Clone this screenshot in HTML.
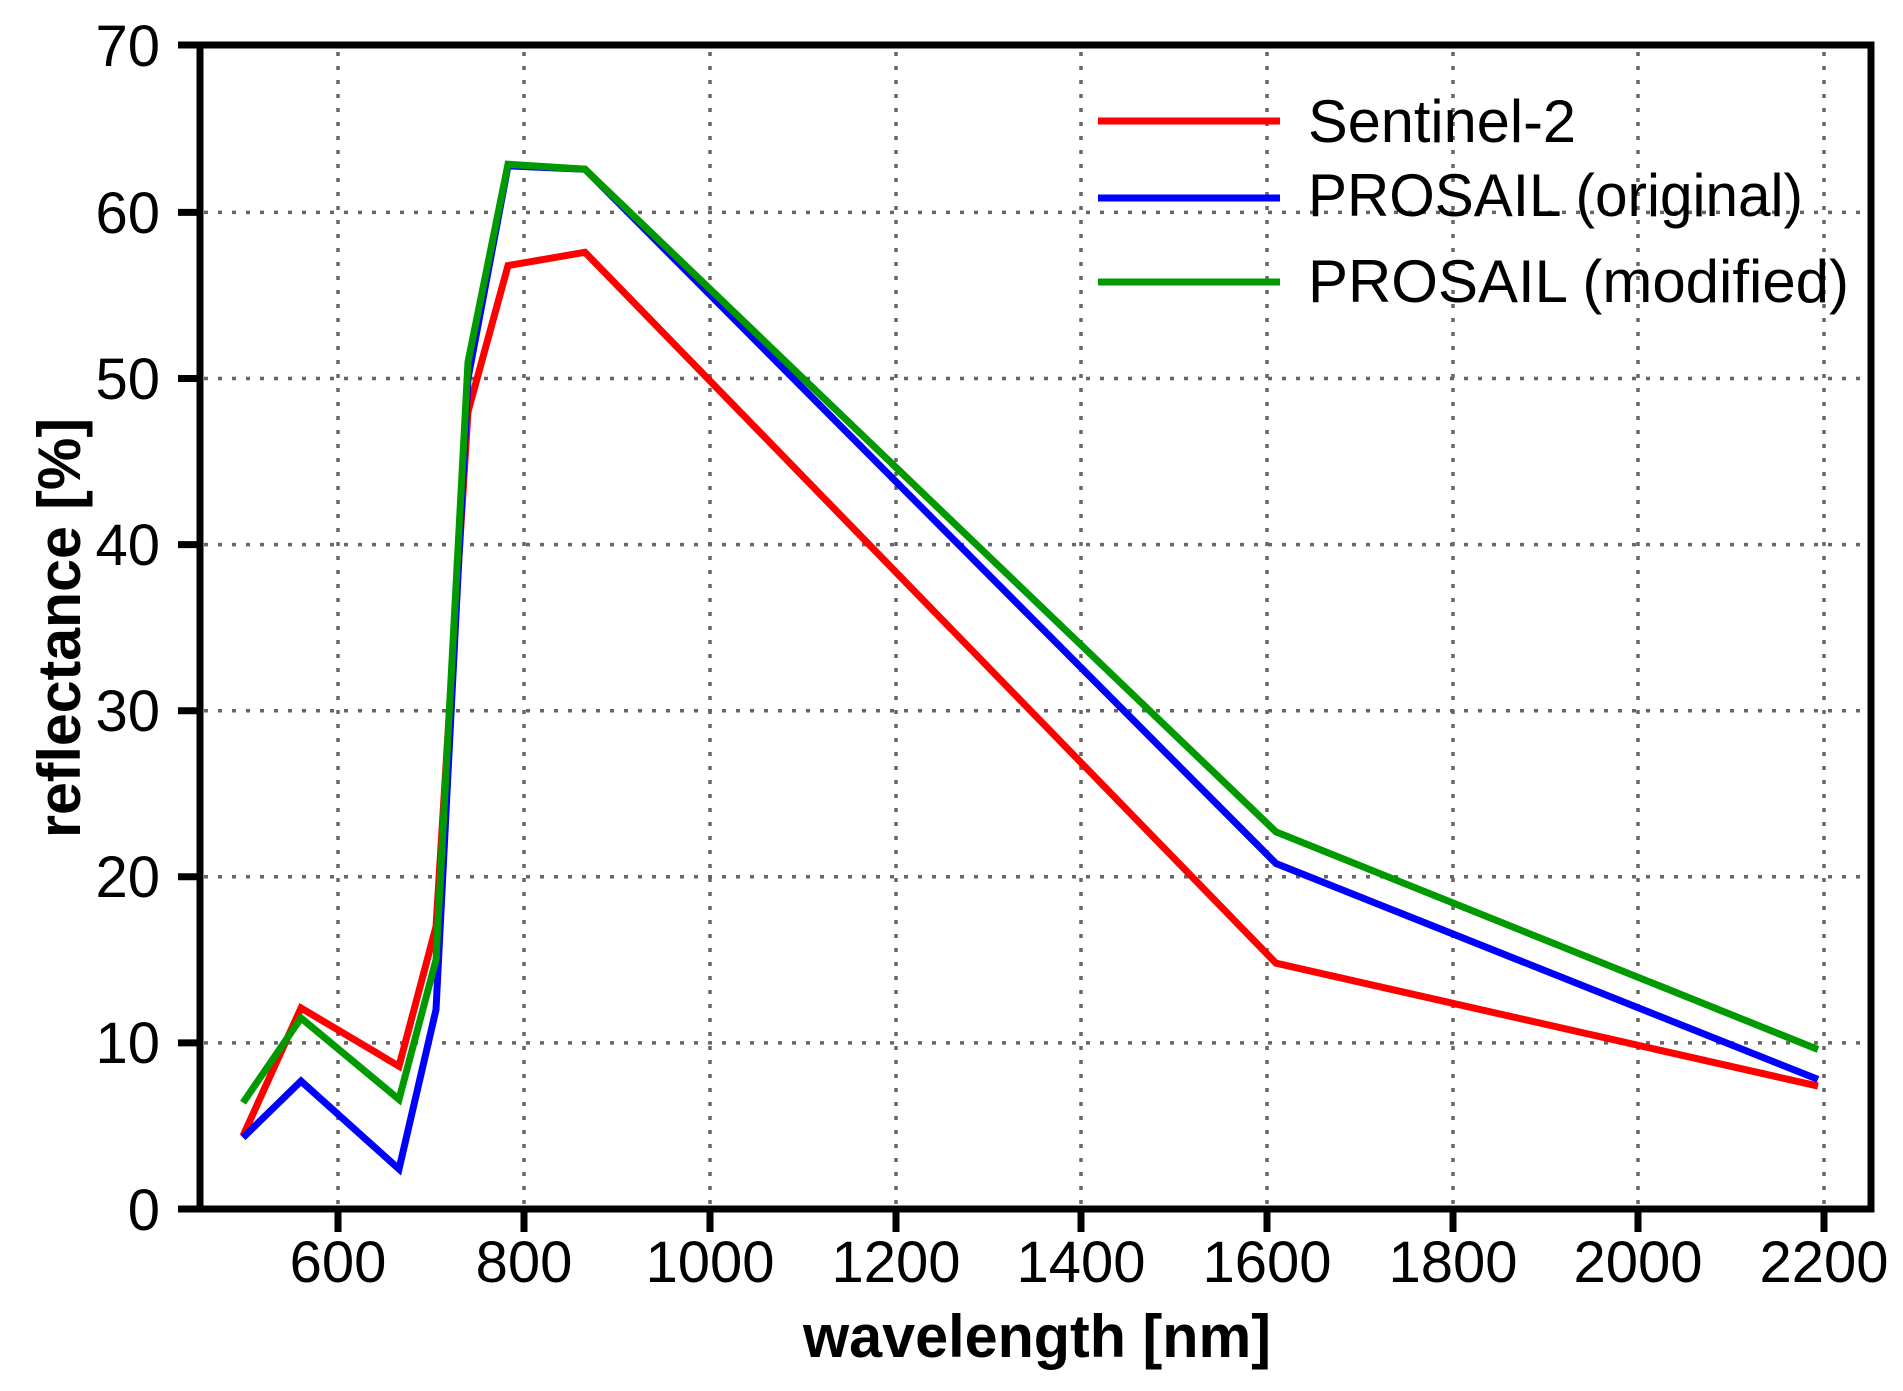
<!DOCTYPE html>
<html><head><meta charset="utf-8"><style>
html,body{margin:0;padding:0;background:#fff;}
svg{display:block;}
text{font-family:"Liberation Sans",Arial,sans-serif;fill:#000;}
</style></head><body>
<svg width="1903" height="1391" viewBox="0 0 1903 1391" xmlns="http://www.w3.org/2000/svg">
<rect width="1903" height="1391" fill="#fff"/>
<g stroke="#666" stroke-width="3.5" stroke-dasharray="4 10" fill="none">
<line x1="204" y1="1042.9" x2="1867" y2="1042.9"/>
<line x1="204" y1="876.8" x2="1867" y2="876.8"/>
<line x1="204" y1="710.7" x2="1867" y2="710.7"/>
<line x1="204" y1="544.6" x2="1867" y2="544.6"/>
<line x1="204" y1="378.5" x2="1867" y2="378.5"/>
<line x1="204" y1="212.4" x2="1867" y2="212.4"/>
<line x1="338" y1="52" x2="338" y2="1205"/>
<line x1="524" y1="52" x2="524" y2="1205"/>
<line x1="710" y1="52" x2="710" y2="1205"/>
<line x1="896" y1="52" x2="896" y2="1205"/>
<line x1="1081" y1="52" x2="1081" y2="1205"/>
<line x1="1267" y1="52" x2="1267" y2="1205"/>
<line x1="1453" y1="52" x2="1453" y2="1205"/>
<line x1="1638" y1="52" x2="1638" y2="1205"/>
<line x1="1824" y1="52" x2="1824" y2="1205"/>
</g>
<g fill="none" stroke-width="7" stroke-linejoin="miter">
<polyline stroke="#ff0000" points="243,1135.9 301,1008 399,1066.2 436,926.6 468,411.7 508,265.6 585,252.3 1276,963.2 1818,1086.1"/>
<polyline stroke="#0000ff" points="243,1137.6 301,1081.1 399,1169.1 436,1009.7 468,378.5 508,165.9 585,169.2 1276,863.5 1818,1079.4"/>
<polyline stroke="#009900" points="243,1102.7 301,1018 399,1099.4 436,959.9 468,361.9 508,164.2 585,169.2 1276,831.9 1818,1049.5"/>
</g>
<g stroke="#000" stroke-width="7" fill="none">
<rect x="200" y="45" width="1671" height="1164"/>
<line x1="178" y1="45" x2="200" y2="45"/>
<line x1="178" y1="212.4" x2="200" y2="212.4"/>
<line x1="178" y1="378.5" x2="200" y2="378.5"/>
<line x1="178" y1="544.6" x2="200" y2="544.6"/>
<line x1="178" y1="710.7" x2="200" y2="710.7"/>
<line x1="178" y1="876.8" x2="200" y2="876.8"/>
<line x1="178" y1="1042.9" x2="200" y2="1042.9"/>
<line x1="178" y1="1209" x2="200" y2="1209"/>
<line x1="338" y1="1209" x2="338" y2="1232"/>
<line x1="524" y1="1209" x2="524" y2="1232"/>
<line x1="710" y1="1209" x2="710" y2="1232"/>
<line x1="896" y1="1209" x2="896" y2="1232"/>
<line x1="1081" y1="1209" x2="1081" y2="1232"/>
<line x1="1267" y1="1209" x2="1267" y2="1232"/>
<line x1="1453" y1="1209" x2="1453" y2="1232"/>
<line x1="1638" y1="1209" x2="1638" y2="1232"/>
<line x1="1824" y1="1209" x2="1824" y2="1232"/>
</g>
<g font-size="58" text-anchor="end">
<text x="160" y="66">70</text>
<text x="160" y="233">60</text>
<text x="160" y="399">50</text>
<text x="160" y="565">40</text>
<text x="160" y="731">30</text>
<text x="160" y="897">20</text>
<text x="160" y="1063">10</text>
<text x="160" y="1230">0</text>
</g>
<g font-size="58" text-anchor="middle">
<text x="338" y="1282">600</text>
<text x="524" y="1282">800</text>
<text x="710" y="1282">1000</text>
<text x="896" y="1282">1200</text>
<text x="1081" y="1282">1400</text>
<text x="1267" y="1282">1600</text>
<text x="1453" y="1282">1800</text>
<text x="1638" y="1282">2000</text>
<text x="1824" y="1282">2200</text>
</g>
<text x="1037" y="1357" font-size="60" font-weight="bold" text-anchor="middle" textLength="468" lengthAdjust="spacingAndGlyphs">wavelength [nm]</text>
<text transform="translate(80,628) rotate(-90)" font-size="60" font-weight="bold" text-anchor="middle" textLength="420" lengthAdjust="spacingAndGlyphs">reflectance [%]</text>
<g stroke-width="7">
<line x1="1098" y1="121" x2="1280" y2="121" stroke="#ff0000"/>
<line x1="1098" y1="198" x2="1280" y2="198" stroke="#0000ff"/>
<line x1="1098" y1="282" x2="1280" y2="282" stroke="#009900"/>
</g>
<g font-size="60">
<text x="1308" y="142" textLength="268" lengthAdjust="spacingAndGlyphs">Sentinel-2</text>
<text x="1308" y="216" textLength="495" lengthAdjust="spacingAndGlyphs">PROSAIL (original)</text>
<text x="1308" y="302" textLength="541" lengthAdjust="spacingAndGlyphs">PROSAIL (modified)</text>
</g>
</svg>
</body></html>
